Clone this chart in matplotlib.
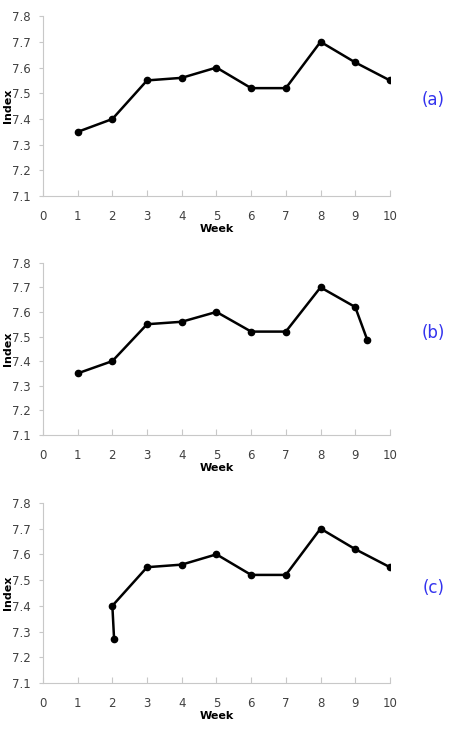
import matplotlib
matplotlib.use('Agg')
from matplotlib import pyplot as plt

weeks_a = [1, 2, 3, 4, 5, 6, 7, 8, 9, 10]
index_a = [7.35, 7.40, 7.55, 7.56, 7.60, 7.52, 7.52, 7.70, 7.62, 7.55]

weeks_b = [1, 2, 3, 4, 5, 6, 7, 8, 9, 9.35]
index_b = [7.35, 7.40, 7.55, 7.56, 7.60, 7.52, 7.52, 7.70, 7.62, 7.485]

weeks_c = [2.05, 2, 3, 4, 5, 6, 7, 8, 9, 10]
index_c = [7.27, 7.40, 7.55, 7.56, 7.60, 7.52, 7.52, 7.70, 7.62, 7.55]

panels = [('(a)', weeks_a, index_a), ('(b)', weeks_b, index_b), ('(c)', weeks_c, index_c)]
xticks = list(range(0, 11))
yticks = [7.1, 7.2, 7.3, 7.4, 7.5, 7.6, 7.7, 7.8]

fig = plt.figure(figsize=(4.62, 7.32), dpi=100)
# [left, bottom, width, height] in figure fraction
boxes = [[0.093, 0.732, 0.751, 0.246],
         [0.093, 0.406, 0.751, 0.235],
         [0.093, 0.067, 0.751, 0.246]]
label_y = [0.863, 0.545, 0.197]

for (name, x, y), box, ly in zip(panels, boxes, label_y):
    ax = fig.add_axes(box)
    ax.plot(x, y, '-o', color='black', lw=1.8, ms=4.5)
    ax.set_xlim(0, 10)
    ax.set_ylim(7.1, 7.8)
    ax.set_xticks(xticks)
    ax.set_yticks(yticks)
    ax.set_yticklabels(['%.1f' % v for v in yticks])
    for s in ['top', 'right']:
        ax.spines[s].set_visible(False)
    for s in ['left', 'bottom']:
        ax.spines[s].set_color('#c8c8c8')
        ax.spines[s].set_linewidth(0.8)
    ax.tick_params(axis='x', direction='in', length=4, color='#c8c8c8',
                   labelsize=8.5, labelcolor='#404040', pad=10)
    ax.tick_params(axis='y', direction='out', length=3, color='#c8c8c8',
                   labelsize=8.5, labelcolor='#404040', pad=6)
    ax.set_xlabel('Week', fontsize=8, fontweight='bold', labelpad=1)
    ax.set_ylabel('Index', fontsize=8, fontweight='bold', labelpad=-1)
    ax.yaxis.set_label_coords(-0.085, 0.5)
    fig.text(0.938, ly, name, color='#3333ee', fontsize=12, ha='center', va='center')

fig.savefig('out.png')
